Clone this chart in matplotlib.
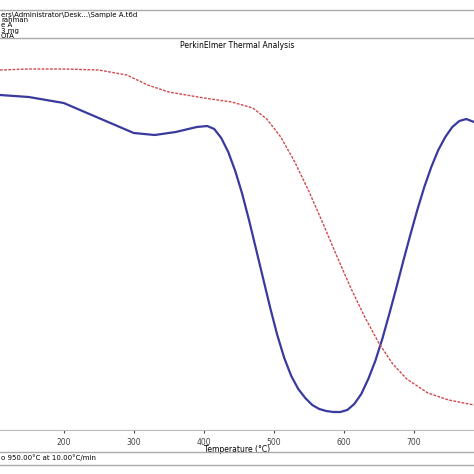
import matplotlib.pyplot as plt

# DTA curve (blue) (temp in C, signal in arbitrary units)
blue_t = [109, 150, 200, 250, 300, 330, 360, 390, 405, 415, 425, 435, 445, 455, 465,
          475, 485, 495, 505, 515, 525, 535, 545, 555, 565, 575, 585, 595, 605, 615,
          625, 635, 645, 655, 665, 675, 685, 695, 705, 715, 725, 735, 745, 755, 765,
          775, 786]
blue_y = [379, 377, 371, 356, 341, 339, 342, 347, 348, 345, 336, 322, 303, 280, 253,
          224, 195, 166, 139, 116, 98, 85, 76, 69, 65, 63, 62, 62, 64, 70,
          80, 95, 113, 135, 160, 186, 213, 239, 264, 287, 307, 324, 337, 347, 353,
          355, 352]
# TG curve (red dashed)
red_t = [109, 150, 200, 250, 290, 320, 350, 400, 440, 470, 490, 510, 530, 550, 570,
         590, 610, 630, 650, 670, 690, 720, 750, 786]
red_y = [404, 405, 405, 404, 399, 389, 382, 376, 372, 366, 355, 337, 312, 283, 251,
         218, 186, 157, 131, 110, 95, 81, 74, 69]
xticks = [200, 300, 400, 500, 600, 700]

fig = plt.figure(figsize=(4.74, 4.74), dpi=100)
ax = fig.add_axes([0, (474 - 430) / 474, 1, (430 - 55) / 474])
ax.plot(blue_t, blue_y, color="#3a3a9e", lw=1.6)
ax.plot(red_t, red_y, color="#d04a4a", lw=1.0, ls=(0, (2, 1)))
ax.set_xlim(109, 786)
ax.set_ylim(44, 419)
ax.set_xticks(xticks)
ax.set_yticks([])
ax.tick_params(axis="x", labelsize=5.5, length=2, colors="#444444")
for s in ["top", "left", "right"]:
    ax.spines[s].set_visible(False)
ax.spines["bottom"].set_color("#bbbbbb")
ax.set_xlabel("Temperature (°C)", fontsize=5.5, labelpad=-1)

fig.text(0.5, 1 - 48 / 474, "PerkinElmer Thermal Analysis", fontsize=5.5, ha="center")
header = ["ers\\Administrator\\Desk...\\Sample A.t6d", "rahman", "e A", "3 mg", "OTA"]
for i, h in enumerate(header):
    fig.text(0.002, 1 - (15 + i * 5.2) / 474, h, fontsize=5, va="center")
fig.add_artist(plt.Line2D([0, 1], [1 - 10 / 474] * 2, color="#aaaaaa", lw=1))
fig.add_artist(plt.Line2D([0, 1], [1 - 38 / 474] * 2, color="#aaaaaa", lw=1))
fig.add_artist(plt.Line2D([0, 1], [1 - 452 / 474] * 2, color="#aaaaaa", lw=1))
fig.add_artist(plt.Line2D([0, 1], [1 - 465 / 474] * 2, color="#aaaaaa", lw=1))
fig.text(0.002, 1 - 458 / 474, "o 950.00°C at 10.00°C/min", fontsize=5, va="center")

fig.savefig("out.png", dpi=100)
